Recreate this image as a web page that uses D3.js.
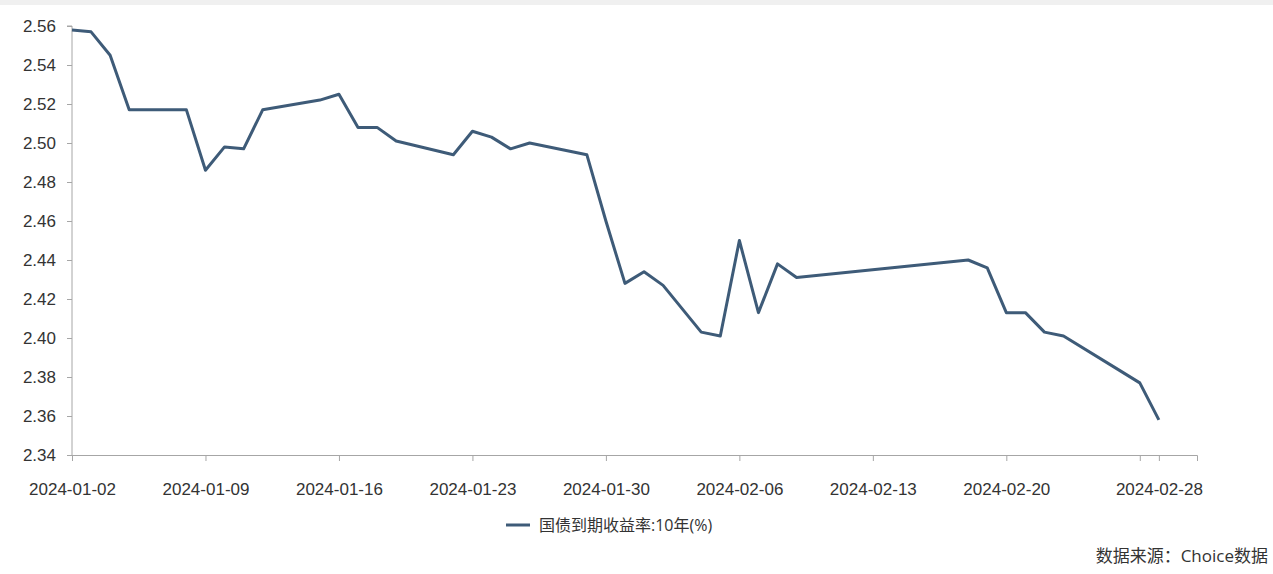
<!DOCTYPE html>
<html><head><meta charset="utf-8">
<script src="https://cdn.jsdelivr.net/npm/d3@7"></script>
<style>
body{margin:0;background:#fff;font-family:"Open Sans","Noto Sans CJK SC",sans-serif;}
</style></head>
<body><div id="chart"></div>
<script>
// Data
const dates = ["2024-01-02","2024-01-03","2024-01-04","2024-01-05","2024-01-08","2024-01-09","2024-01-10","2024-01-11","2024-01-12","2024-01-15","2024-01-16","2024-01-17","2024-01-18","2024-01-19","2024-01-22","2024-01-23","2024-01-24","2024-01-25","2024-01-26","2024-01-29","2024-01-30","2024-01-31","2024-02-01","2024-02-02","2024-02-04","2024-02-05","2024-02-06","2024-02-07","2024-02-08","2024-02-09","2024-02-18","2024-02-19","2024-02-20","2024-02-21","2024-02-22","2024-02-23","2024-02-26","2024-02-27","2024-02-28"];
const yields = [2.558,2.557,2.545,2.517,2.517,2.486,2.498,2.497,2.517,2.522,2.525,2.508,2.508,2.501,2.494,2.506,2.503,2.497,2.500,2.494,2.460,2.428,2.434,2.427,2.403,2.401,2.450,2.413,2.438,2.431,2.440,2.436,2.413,2.413,2.403,2.401,2.383,2.377,2.358];
const yTicks = [2.34,2.36,2.38,2.40,2.42,2.44,2.46,2.48,2.50,2.52,2.54,2.56];
const xTickLabels = ["2024-01-02","2024-01-09","2024-01-16","2024-01-23","2024-01-30","2024-02-06","2024-02-13","2024-02-20","2024-02-27","2024-02-28"];
const seriesName = "国债到期收益率:10年(%)";
const sourceText = "数据来源：Choice数据";

const parseDate = d3.timeParse("%Y-%m-%d");
const fmt = d3.timeFormat("%Y-%m-%d");
const data = dates.map((d, i) => ({ date: parseDate(d), value: yields[i] }));

const width = 1273, height = 574;
const svg = d3.select("#chart").append("svg").attr("width", width).attr("height", height);

// top grey band
svg.append("rect").attr("width", width).attr("height", 5).attr("fill", "#f0f0f0");

const xScale = d3.scaleTime()
  .domain([parseDate("2024-01-02"), parseDate("2024-03-01")])
  .range([72, 1197]);
const yScale = d3.scaleLinear().domain([2.34, 2.56]).range([455, 26]);

// axes
const xAxis = d3.axisBottom(xScale)
  .tickValues(xTickLabels.map(parseDate))
  .tickSize(6)
  .tickFormat(d => fmt(d) === "2024-02-27" ? "" : fmt(d));
const gx = svg.append("g").attr("transform", "translate(0,455)").call(xAxis);
gx.selectAll("path,line").attr("stroke", "#a6a6a6");
gx.selectAll("text").attr("dy", "1.8em").style("font-size", "17px").style("fill", "#333");

const yAxis = d3.axisLeft(yScale).tickValues(yTicks).tickSize(5).tickFormat(d3.format(".2f"));
const gy = svg.append("g").attr("transform", "translate(72,0)").call(yAxis);
gy.selectAll("path,line").attr("stroke", "#a6a6a6");
gy.select(".domain").attr("d", "M-5,26H0V455");
gy.selectAll("text").attr("x", -16).style("font-size", "17px").style("fill", "#333");

// line
const line = d3.line().x(d => xScale(d.date)).y(d => yScale(d.value));
svg.append("path").datum(data).attr("d", line)
  .attr("fill", "none").attr("stroke", "#3e5b78").attr("stroke-width", 3)
  .attr("stroke-linejoin", "round");

// legend
svg.append("line").attr("x1", 506).attr("x2", 530).attr("y1", 525).attr("y2", 525)
  .attr("stroke", "#3e5b78").attr("stroke-width", 3);
svg.append("text").attr("x", 539).attr("y", 531).text(seriesName)
  .style("font-size", "16px").style("fill", "#333");

// source
svg.append("text").attr("x", 1268).attr("y", 562).attr("text-anchor", "end")
  .text(sourceText).style("font-size", "17px").style("fill", "#333");
</script>
</body></html>
